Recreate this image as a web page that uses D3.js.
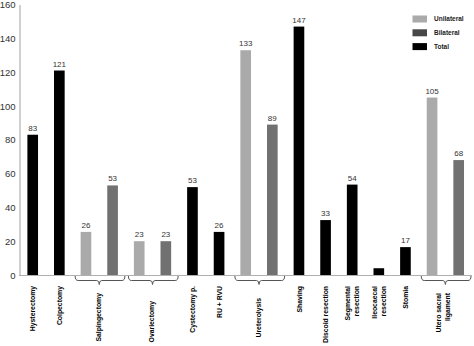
<!DOCTYPE html>
<html><head><meta charset="utf-8">
<script src="https://cdn.jsdelivr.net/npm/d3@7"></script>
<style>body{margin:0;background:#fff}svg{display:block}</style>
</head><body>
<script>
// slots (one bar each)
const slotKeys = ["hyst","colp","salpU","salpB","ovaU","ovaB","cyst","ru","uretU","uretB","shav","disc","segm","ileo","stom","uteroU","uteroB"];
const slotType = ["Total","Total","Unilateral","Bilateral","Unilateral","Bilateral","Total","Total","Unilateral","Bilateral","Total","Total","Total","Total","Total","Unilateral","Bilateral"];
const values = [83,121,25.5,53,20,20,52,25.5,133,89,147,32.5,53.5,4,16.5,105,68];
const valueLabels = ["83","121","26","53","23","23","53","26","133","89","147","33","54","","17","105","68"];
// category labels
const singleSlots = ["hyst","colp","cyst","ru","shav","disc","segm","ileo","stom"];
const singleLines = [["Hysterectomy"],["Colpectomy"],["Cystectomy p."],["RU + RVU"],["Shaving"],["Discoid resection"],["Segmental","resection"],["Ileocaecal","resection"],["Stomia"]];
const groupFrom = ["salpU","ovaU","uretU","uteroU"];
const groupTo = ["salpB","ovaB","uretB","uteroB"];
const groupLines = [["Salpingectomy"],["Ovariectomy"],["Ureterolysis"],["Utero sacral","ligament"]];
const legendItems = ["Unilateral","Bilateral","Total"];
const yTicks = [0,20,40,60,80,100,120,140,160];

const W=474,H=346;
const barColor = {Unilateral:"#aaaaaa", Bilateral:"#717171", Total:"#000000"};
const legendColor = {Unilateral:"#aaaaaa", Bilateral:"#474747", Total:"#000000"};
const font = "'Liberation Sans', Arial, sans-serif";
const groupLabelTop = [293, 301, 298, 293];

const svg = d3.select("body").append("svg").attr("width",W).attr("height",H);
const x = d3.scaleBand().domain(slotKeys).range([19.4,472]).paddingInner(0.6).paddingOuter(0.3);
const y = d3.scaleLinear().domain([0,160]).range([275,4.6]);

// y axis
const yAxis = d3.axisLeft(y).tickValues(yTicks).tickSize(0).tickPadding(4);
const ga = svg.append("g").attr("transform","translate(19.5,0)").call(yAxis);
ga.select(".domain").attr("stroke","#b0b0b0").attr("stroke-width",1.2);
ga.selectAll("text").attr("font-family",font).attr("font-size",9.5).attr("fill","#333");

// x axis line
svg.append("line").attr("x1",19).attr("x2",472).attr("y1",275.5).attr("y2",275.5)
  .attr("stroke","#b0b0b0").attr("stroke-width",1);

// bars
svg.selectAll("rect.bar").data(slotKeys).join("rect").attr("class","bar")
  .attr("x",d=>x(d)).attr("width",x.bandwidth())
  .attr("y",(d,i)=>y(values[i])).attr("height",(d,i)=>y(0)-y(values[i]))
  .attr("fill",(d,i)=>barColor[slotType[i]]);

// value labels
svg.selectAll("text.val").data(slotKeys).join("text").attr("class","val")
  .attr("x",d=>x(d)+x.bandwidth()/2).attr("y",(d,i)=>y(values[i])-4)
  .attr("text-anchor","middle").attr("font-family",font).attr("font-size",8)
  .attr("fill","#333").text((d,i)=>valueLabels[i]);

function rotLabel(cx, top, lines){
  const g = svg.append("g").attr("transform",`translate(${cx},${top}) rotate(-90) scale(0.9,1)`);
  const lh = 9;
  const off = -(lines.length-1)*lh/2;
  lines.forEach((l,k)=>{
    g.append("text").attr("x",0).attr("y",off+k*lh).attr("dy","0.35em")
      .attr("text-anchor","end").attr("font-family",font).attr("font-weight","bold")
      .attr("font-size",7.6).attr("fill","#000").text(l);
  });
}
singleSlots.forEach((s,i)=>rotLabel(x(s)+x.bandwidth()/2, 286, singleLines[i]));

// group brackets
groupFrom.forEach((from,i)=>{
  const to = groupTo[i];
  const step = x.step();
  const x1 = x(from) - step*0.3 + 2.5;
  const x2 = Math.min(x(to) + x.bandwidth() + step*0.3 - 1, 472);
  const cx = (x(from) + x(to) + x.bandwidth())/2;
  const y0=276, y1=280.5, y2=284.5;
  const p = d3.path();
  p.moveTo(x1,y0); p.quadraticCurveTo(x1,y1,x1+3,y1);
  p.lineTo(cx-2.5,y1); p.quadraticCurveTo(cx,y1,cx,y2);
  p.quadraticCurveTo(cx,y1,cx+2.5,y1);
  p.lineTo(x2-3,y1); p.quadraticCurveTo(x2,y1,x2,y0);
  svg.append("path").attr("d",p.toString()).attr("fill","none").attr("stroke","#555").attr("stroke-width",1);
  rotLabel(i===3 ? cx-3 : cx-1, groupLabelTop[i], groupLines[i]);
});

// legend
const lg = svg.append("g");
legendItems.forEach((k,i)=>{
  const cy = 19 + i*13.8;
  lg.append("rect").attr("x",412.5).attr("y",cy-3.5).attr("width",14.5).attr("height",7).attr("fill",legendColor[k]);
  lg.append("text").attr("x",434).attr("y",cy).attr("dy","0.35em").attr("font-family",font)
    .attr("font-weight","bold").attr("font-size",6.5).attr("fill","#222").text(k);
});
</script>
</body></html>
